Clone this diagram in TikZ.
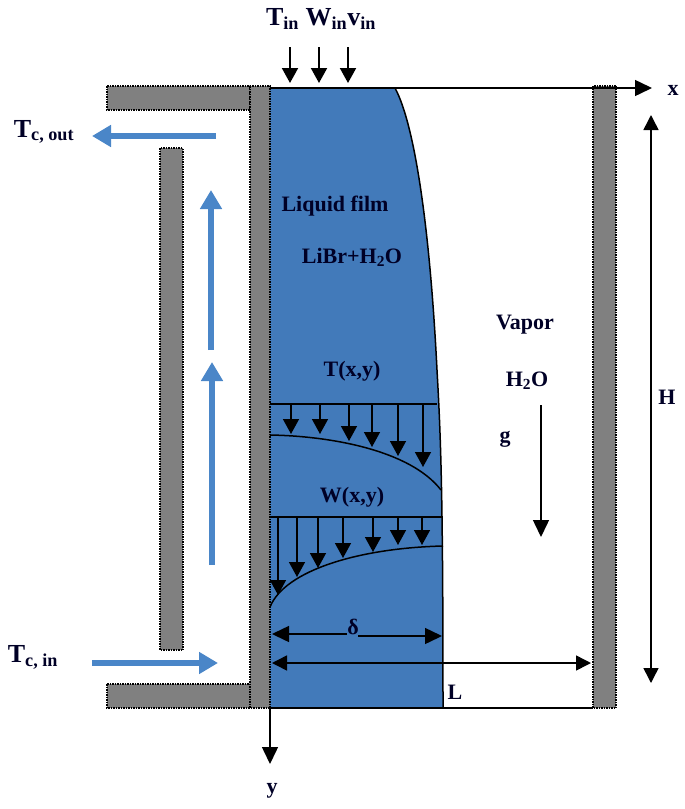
\documentclass[tikz,border=0pt]{standalone}
\usepackage{fontspec}
\setmainfont{Liberation Serif}
\usetikzlibrary{arrows.meta}
\definecolor{filmblue}{HTML}{427ABA}
\definecolor{flowblue}{HTML}{4A86C8}
\tikzset{
    wall/.style={draw=black,fill=black!50,densely dotted,line width=1.5pt},
    label/.style={font=\fontsize{22}{26}\selectfont\bfseries,inner sep=0pt,text=black!85!blue},
    small/.style={font=\fontsize{26}{28}\selectfont\bfseries,inner sep=0pt,text=black!85!blue},
    axis/.style={draw=black,line width=1.5pt,-{Triangle[length=17pt,width=16pt]}},
    axisboth/.style={draw=black,line width=1.5pt,{Triangle[length=15pt,width=15pt]}-{Triangle[length=15pt,width=15pt]}},
    profile/.style={draw=black,line width=1.5pt,-{Triangle[length=15pt,width=16pt]}},
    flow/.style={draw=flowblue,line width=6pt,-{Triangle[length=19pt,width=21pt]}}
}
\begin{document}
\begin{tikzpicture}[x=1pt,y=-1pt]
    \useasboundingbox (0,0) rectangle (685,809);
    % liquid film
    \fill[filmblue] (270,88) -- (395,88) .. controls (415,125) and (430,230) .. (437,370)
        .. controls (441,440) and (443,500) .. (443,708) -- (270,708) -- cycle;
    \draw[black,line width=1.5pt] (395,88) .. controls (415,125) and (430,230) .. (437,370)
        .. controls (441,440) and (443,500) .. (443,708);
    % walls
    \draw[wall] (107,86) rectangle (250,110);
    \draw[wall] (107,684) rectangle (250,708);
    \draw[wall] (250,86) rectangle (270,708);
    \draw[wall] (160,148) rectangle (183,650);
    \draw[wall] (593,86) rectangle (616,708);
    % axes
    \coordinate (origin) at (270,88);
    \coordinate (xend) at (652,88);
    \coordinate (base) at (270,708);
    \coordinate (basewall) at (593,708);
    \coordinate (yend) at (270,764);
    \draw[axis] (origin) -- (xend);
    \draw[black,line width=1.5pt] (base) -- (basewall);
    \draw[axis] (base) -- (yend);
    \node[label] (xlabel) at (673,90) {x};
    \node[label] (ylabel) at (272,791) {y};
    % inlet
    \node[small] (inlet) at (321,19) {T\textsubscript{in} W\textsubscript{in}v\textsubscript{in}};
    \foreach \ix in {290,319,348} {
        \coordinate (in\ix) at (\ix,47);
        \coordinate (out\ix) at (\ix,83);
        \draw[profile,line width=2pt] (in\ix) -- (out\ix);
    }
    % temperature profile
    \coordinate (tleft) at (270,404);
    \coordinate (tright) at (437,404);
    \draw[black,line width=1.5pt] (tleft) -- (tright);
    \draw[black,line width=1.5pt] (270,435) .. controls (330,436) and (410,450) .. (441,490);
    \foreach \px/\py in {291/434,320/434,349/441,372/447,398/456,423/467} {
        \coordinate (ts\px) at (\px,404);
        \coordinate (te\px) at (\px,\py);
        \draw[profile] (ts\px) -- (te\px);
    }
    % velocity profile
    \coordinate (wleft) at (270,517);
    \coordinate (wright) at (443,517);
    \draw[black,line width=1.5pt] (wleft) -- (wright);
    \draw[black,line width=1.5pt] (270,607) .. controls (285,570) and (360,548) .. (443,546);
    \foreach \px/\py in {278/595,297/577,318/568,343/558,373/552,398/545,422/545} {
        \coordinate (ws\px) at (\px,517);
        \coordinate (we\px) at (\px,\py);
        \draw[profile] (ws\px) -- (we\px);
    }
    % film labels
    \node[label] (film) at (335,206) {Liquid film};
    \node[label] (libr) at (352,257) {LiBr+H\textsubscript{2}O};
    \node[label] (tfield) at (352,371) {T(x,y)};
    \node[label] (wfield) at (352,497) {W(x,y)};
    \node[label] (delta) at (353,627) {δ};
    \coordinate (dleft) at (272,634);
    \coordinate (dmidl) at (347,634);
    \coordinate (dmidr) at (358,636);
    \coordinate (dright) at (442,636);
    \draw[axis] (dmidl) -- (dleft);
    \draw[axis] (dmidr) -- (dright);
    % gap
    \coordinate (lleft) at (272,663);
    \coordinate (lright) at (591,663);
    \draw[axisboth] (lleft) -- (lright);
    \node[label] (gap) at (455,692) {L};
    % height
    \coordinate (htop) at (651,115);
    \coordinate (hbot) at (651,683);
    \draw[axisboth] (htop) -- (hbot);
    \node[label] (height) at (667,397) {H};
    % vapor
    \node[label] (vapor) at (525,325) {Vapor};
    \node[label] (water) at (527,381) {H\textsubscript{2}O};
    \node[label] (grav) at (505,439) {g};
    \coordinate (gtop) at (541,405);
    \coordinate (gbot) at (541,537);
    \draw[axis] (gtop) -- (gbot);
    % coolant
    \node[small] (tcout) at (44,132) {T\textsubscript{c, out}};
    \node[small] (tcin) at (33,657) {T\textsubscript{c, in}};
    \coordinate (cout1) at (216,136);
    \coordinate (cout2) at (92,136);
    \coordinate (cup1) at (211,350);
    \coordinate (cup2) at (211,190);
    \coordinate (cmid1) at (212,565);
    \coordinate (cmid2) at (212,362);
    \coordinate (cin1) at (92,663);
    \coordinate (cin2) at (218,663);
    \draw[flow] (cout1) -- (cout2);
    \draw[flow] (cup1) -- (cup2);
    \draw[flow] (cmid1) -- (cmid2);
    \draw[flow] (cin1) -- (cin2);
\end{tikzpicture}
\end{document}
